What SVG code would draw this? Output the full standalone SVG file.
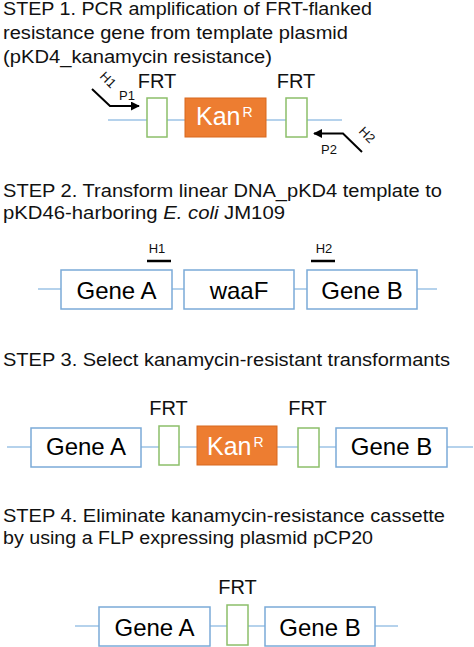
<svg xmlns="http://www.w3.org/2000/svg" width="474" height="647" viewBox="0 0 474 647">
<defs>
<style>
.h{font-family:"Liberation Sans",Arial,sans-serif;font-size:17.5px;fill:#111}
.g{font-family:"Liberation Sans",Arial,sans-serif;font-size:24px;fill:#000;text-anchor:middle}
.f{font-family:"Liberation Sans",Arial,sans-serif;font-size:20px;fill:#111;text-anchor:middle}
.k{font-family:"Liberation Sans",Arial,sans-serif;font-size:25px;fill:#fff}
.s{font-family:"Liberation Sans",Arial,sans-serif;font-size:13px;fill:#111}
.dna{stroke:#9DC3E6;stroke-width:1.5;fill:none}
.gene{fill:#fff;stroke:#7BAAD8;stroke-width:1.5}
.frt{fill:#fff;stroke:#8CBF6A;stroke-width:1.5}
.kan{fill:#ED7D31;stroke:#D7691E;stroke-width:1}
.pr{stroke:#000;stroke-width:2;fill:none}
.bar{stroke:#000;stroke-width:2.5}
</style>
<marker id="ah" viewBox="0 0 10 10" refX="9" refY="5" markerWidth="4.5" markerHeight="4.5" orient="auto" markerUnits="strokeWidth">
<path d="M0,0 L10,5 L0,10 Z" fill="#000"/>
</marker>
</defs>

<g id="titles">
<text class="h" x="3" y="15" textLength="369" lengthAdjust="spacingAndGlyphs">STEP 1. PCR amplification of FRT-flanked</text>
<text class="h" x="3" y="39" textLength="345" lengthAdjust="spacingAndGlyphs">resistance gene from template plasmid</text>
<text class="h" x="3" y="62.5" textLength="269" lengthAdjust="spacingAndGlyphs">(pKD4_kanamycin resistance)</text>
<text class="h" x="3" y="197" textLength="439" lengthAdjust="spacingAndGlyphs">STEP 2. Transform linear  DNA_pKD4 template to</text>
<text class="h" x="3" y="218.5" textLength="282" lengthAdjust="spacingAndGlyphs">pKD46-harboring <tspan font-style="italic">E. coli</tspan> JM109</text>
<text class="h" x="3" y="366" textLength="447" lengthAdjust="spacingAndGlyphs">STEP 3. Select kanamycin-resistant transformants</text>
<text class="h" x="3" y="522" textLength="442" lengthAdjust="spacingAndGlyphs">STEP 4. Eliminate kanamycin-resistance cassette</text>
<text class="h" x="3" y="543.5" textLength="370" lengthAdjust="spacingAndGlyphs">by using a FLP expressing plasmid pCP20</text>
</g>

<g id="connectors">
<line class="dna" x1="108" y1="120" x2="342" y2="120"/>
<line class="dna" x1="38" y1="289" x2="437" y2="289"/>
<line class="dna" x1="7" y1="447" x2="473" y2="447"/>
<line class="dna" x1="75" y1="626" x2="398" y2="626"/>
<polyline class="pr" points="92,89 110,106 139,106" marker-end="url(#ah)"/>
<polyline class="pr" points="362,152 343,133.5 314,133.5" marker-end="url(#ah)"/>
</g>

<g id="step1">
<g id="s1-frt1"><rect class="frt" x="147" y="98" width="20" height="39"/><text class="f" x="157" y="88">FRT</text></g>
<g id="s1-kan"><rect class="kan" x="185" y="98" width="81" height="39"/><text class="k" x="196" y="125">Kan<tspan font-size="14" dx="2" dy="-8">R</tspan></text></g>
<g id="s1-frt2"><rect class="frt" x="286" y="98" width="21" height="39"/><text class="f" x="296" y="88">FRT</text></g>
<g id="s1-p1"><text class="s" x="119" y="100">P1</text><text class="s" x="0" y="0" transform="translate(99,77) rotate(45)">H1</text></g>
<g id="s1-p2"><text class="s" x="321" y="154">P2</text><text class="s" x="0" y="0" transform="translate(358,132) rotate(45)">H2</text></g>
</g>

<g id="step2">
<g id="s2-geneA"><rect class="gene" x="61" y="270" width="111" height="39"/><text class="g" x="116.5" y="299">Gene A</text></g>
<g id="s2-waaF"><rect class="gene" x="184" y="270" width="110" height="39"/><text class="g" x="239" y="299">waaF</text></g>
<g id="s2-geneB"><rect class="gene" x="307" y="270" width="110" height="39"/><text class="g" x="362" y="299">Gene B</text></g>
<g id="s2-h1"><line class="bar" x1="147" y1="261" x2="171" y2="261"/><text class="s" x="157" y="253" text-anchor="middle">H1</text></g>
<g id="s2-h2"><line class="bar" x1="311" y1="261" x2="335" y2="261"/><text class="s" x="324" y="253" text-anchor="middle">H2</text></g>
</g>

<g id="step3">
<g id="s3-geneA"><rect class="gene" x="31" y="428" width="110" height="39"/><text class="g" x="86" y="455">Gene A</text></g>
<g id="s3-frt1"><rect class="frt" x="159" y="426" width="20" height="39"/><text class="f" x="168.5" y="415">FRT</text></g>
<g id="s3-kan"><rect class="kan" x="197" y="426" width="80" height="39"/><text class="k" x="207" y="455">Kan<tspan font-size="14" dx="2" dy="-8">R</tspan></text></g>
<g id="s3-frt2"><rect class="frt" x="298" y="428" width="21" height="39"/><text class="f" x="307.5" y="415">FRT</text></g>
<g id="s3-geneB"><rect class="gene" x="336" y="428" width="111" height="39"/><text class="g" x="391.5" y="455">Gene B</text></g>
</g>

<g id="step4">
<g id="s4-geneA"><rect class="gene" x="99" y="607" width="111" height="39"/><text class="g" x="154.5" y="636">Gene A</text></g>
<g id="s4-frt"><rect class="frt" x="227" y="605" width="21" height="40"/><text class="f" x="237.5" y="594">FRT</text></g>
<g id="s4-geneB"><rect class="gene" x="265" y="607" width="110" height="39"/><text class="g" x="320" y="636">Gene B</text></g>
</g>
</svg>
